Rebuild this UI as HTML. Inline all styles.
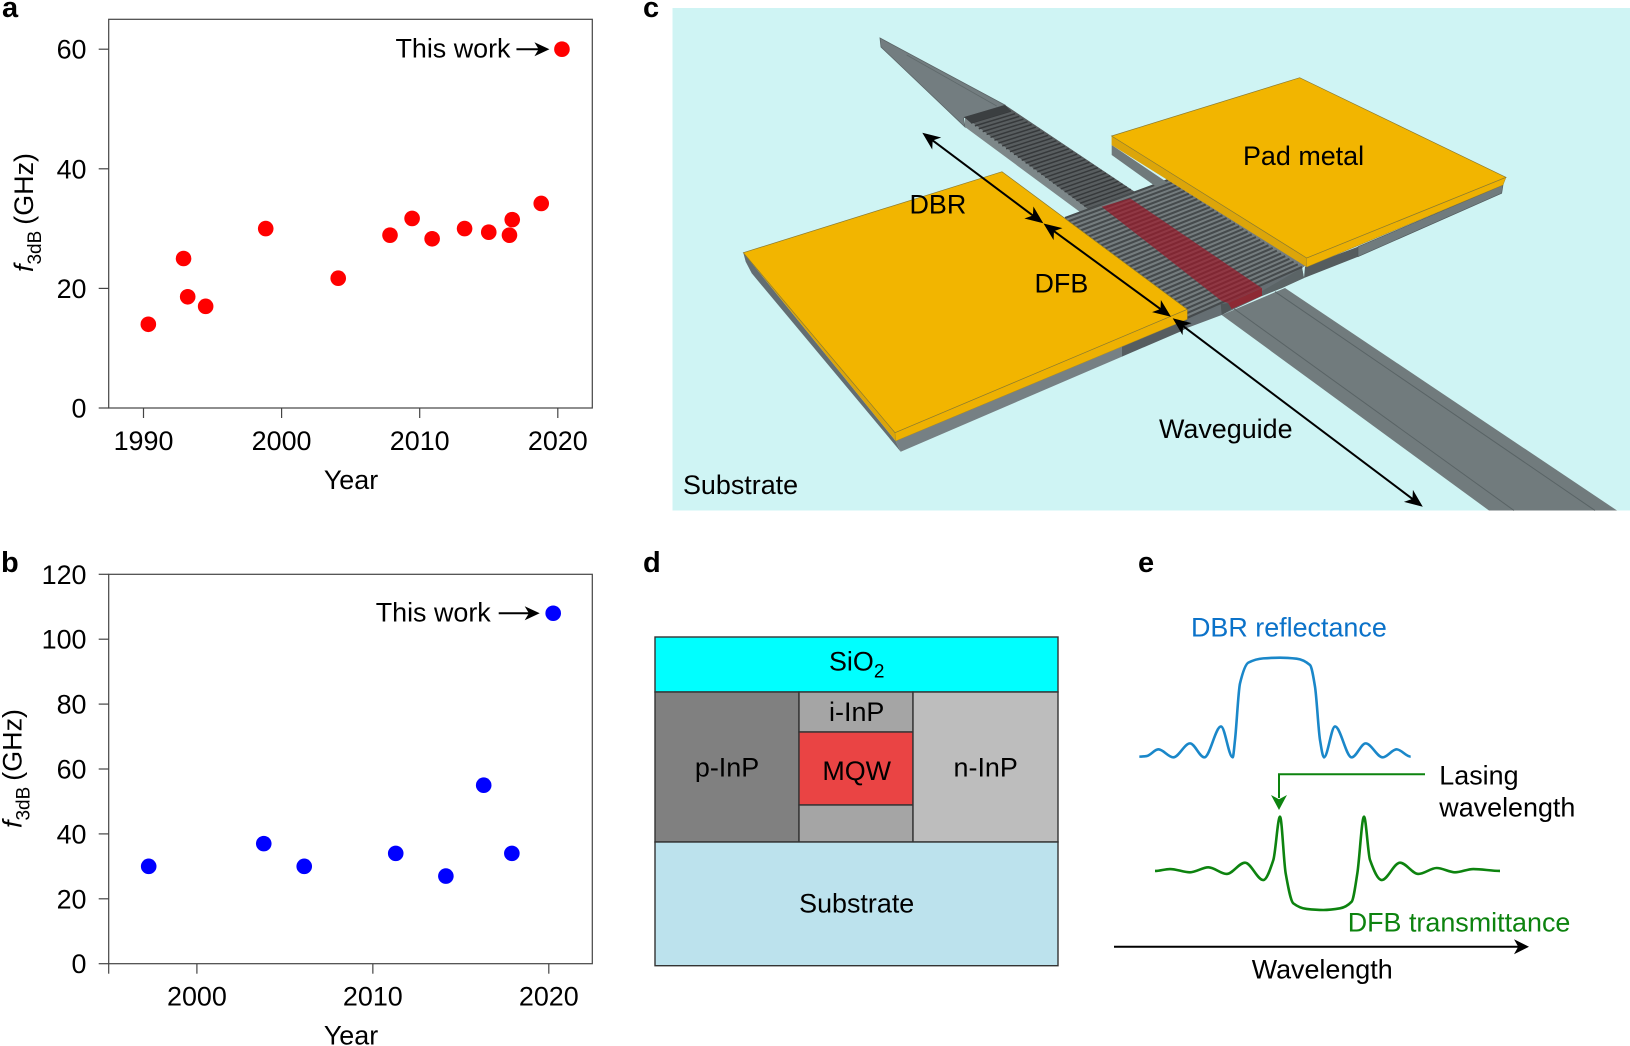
<!DOCTYPE html>
<html lang="en">
<head>
<meta charset="utf-8">
<title>High-speed laser figure</title>
<style>
html,body{margin:0;padding:0;background:#fff;}
svg{display:block;font-family:"Liberation Sans",Arial,sans-serif;}
text{font-size:26.9px;fill:#000;}
.tag{font-size:29px;font-weight:bold;}
.sub{font-size:19px;}
</style>
</head>
<body>
<svg id="fig" xmlns="http://www.w3.org/2000/svg" width="1630" height="1046" viewBox="0 0 1630 1046">
  <text class="tag" x="2" y="17">a</text>
  <text class="tag" x="1" y="572">b</text>
  <text class="tag" x="643" y="17">c</text>
  <text class="tag" x="643" y="572">d</text>
  <text class="tag" x="1138" y="572">e</text>

  <g id="panelA"></g>
  <g id="panelB"></g>

  <!-- Panel c -->
  <g id="panelC">
    <rect x="672.5" y="8" width="957.5" height="502.5" fill="#cff4f4"/>
    <polygon points="1221.7,315 1285,288 1617,510.5 1489,510.5" fill="#717b7d"/>
    <polyline points="1233,308 1514,510.5" fill="none" stroke="#596365" stroke-width="1"/>
    <polyline points="1275,291.7 1595,510.5" fill="none" stroke="#596365" stroke-width="1"/>
    <polygon points="880,38 1005,105 963.5,118 965,127 881,47" fill="#737d80" stroke="#5a6466" stroke-width=".8"/>
    <polyline points="906.7,55 996.7,106" fill="none" stroke="#5f696b" stroke-width=".8"/>
    <polygon points="965,117 1005,105 1135,192 1088,209 1080,212 965,127" fill="#7d8789"/>
    <polygon points="965,117 1005,105 1135,192 1088,209" fill="#585d5f"/>
    <g id="dbrLines"></g>
    <polygon points="964,117 1005,105 1011,111 971,123" fill="#3b3f41"/>
    <polygon points="1180,321 1302,267 1304,278 1282,288 1262,296 1221.7,315 1187,328" fill="#656e72"/>
    <polygon points="1262,291 1302,268 1304,278 1282,288 1262,296" fill="#5b6466"/>
    <polygon points="1220.7,304 1228,303 1231.7,309 1221.7,315" fill="#4f5658"/>
    <polygon points="1065,218 1168,180 1308,264 1302,268 1180,321" fill="#747c7e"/>
    <g id="dfbLines"></g>
    <polygon points="1101.7,206.7 1130,198.3 1261.7,288 1228,303 1221.7,301" fill="#a01626" fill-opacity=".66"/>
    <polygon points="1228,303 1262,288 1262,295.7 1231.7,309" fill="#8d2a34"/>
    <polygon points="1111.7,145 1111.7,155 1155,186 1168,183" fill="#6f797b"/>
    <polygon points="1305,266.7 1304,278 1358,256.7 1358,246.7" fill="#555c5e"/>
    <polygon points="1358,246.7 1358,256.7 1501.7,193.3 1503,185" fill="#707b7e" stroke="#4f5759" stroke-width=".6"/>
    <polygon points="1111.6,136 1111.6,145 1306.7,267 1306.7,258" fill="#dca50a"/>
    <polygon points="1306.7,258 1306.7,267 1503,185 1506,177.3" fill="#eeb102" stroke="#a88a20" stroke-width=".5"/>
    <polygon points="1111.6,136 1299.7,77.7 1506,177.3 1306.7,258" fill="#f2b500" stroke="#8a7a30" stroke-width=".7"/>
    <polygon points="743.3,252.7 745.7,261.7 751.7,273.3 900.7,451.7 895.7,441" fill="#636d72"/>
    <polygon points="895.7,441 900.7,451.7 1121.7,356.7 1121.7,346.7" fill="#768084"/>
    <polygon points="1121.7,346.7 1121.7,356.7 1180,331.7 1187,328 1187.3,319.3" fill="#565d60"/>
    <polygon points="743.3,252.7 895,432.7 895.7,441" fill="#dca50a"/>
    <polygon points="895,432.7 895.7,441 1187.3,319.3 1187.3,309.3" fill="#eeb102" stroke="#a88a20" stroke-width=".5"/>
    <polygon points="743.3,252.7 1002,171.7 1187.3,309.3 895,432.7" fill="#f2b500" stroke="#8a7a30" stroke-width=".7"/>
    <g id="cArrows"></g>
    <text x="1243" y="165">Pad metal</text>
    <text x="909.5" y="213.5">DBR</text>
    <text x="1034.5" y="292.5">DFB</text>
    <text x="1159" y="438">Waveguide</text>
    <text x="683" y="494">Substrate</text>
  </g>

  <!-- Panel d -->
  <g id="panelD" stroke="#333" stroke-width="1.4">
    <rect x="655" y="637" width="403" height="55" fill="#00ffff"/>
    <rect x="655" y="692" width="144" height="150" fill="#808080"/>
    <rect x="799" y="692" width="114" height="40" fill="#a5a5a5"/>
    <rect x="799" y="732" width="114" height="73" fill="#ea4444"/>
    <rect x="799" y="805" width="114" height="37" fill="#a5a5a5"/>
    <rect x="913" y="692" width="145" height="150" fill="#bdbdbd"/>
    <rect x="655" y="842" width="403" height="123.7" fill="#bce2ed"/>
    <g stroke="none" text-anchor="middle">
      <text x="856.7" y="670.7">SiO<tspan class="sub" dy="7">2</tspan></text>
      <text x="856.7" y="721">i-InP</text>
      <text x="727" y="776.7">p-InP</text>
      <text x="856.7" y="780">MQW</text>
      <text x="985.7" y="776.7">n-InP</text>
      <text x="856.7" y="912.3">Substrate</text>
    </g>
  </g>

  <!-- Panel e -->
  <g id="panelE">
    <text x="1191" y="636.7" style="fill:#0b72c9">DBR reflectance</text>
    <text x="1439.3" y="784.3">Lasing</text>
    <text x="1439.3" y="816.7">wavelength</text>
    <text x="1347.7" y="931.7" style="fill:#0d830f">DFB transmittance</text>
    <text x="1251.7" y="978.3">Wavelength</text>
  </g>
</svg>
<script>
// Panel a data
const yearsA = [1990.35,1992.9,1993.2,1994.5,1998.85,2004.1,2007.85,2009.45,2010.9,2013.25,2015,2016.5,2016.7,2018.8,2020.3];
const f3dbA = [14,25,18.6,17,30,21.7,28.9,31.7,28.3,30,29.4,28.9,31.5,34.2,60];
const xTicksA = [1990,2000,2010,2020];
const yTicksA = [0,20,40,60];
// Panel b data
const yearsB = [1997.26,2003.8,2006.1,2011.3,2014.15,2016.3,2017.9,2020.25];
const f3dbB = [30,37,30,34,27,55,34,108];
const xTicksB = [2000,2010,2020];
const yTicksB = [0,20,40,60,80,100,120];
// Panel e data (arbitrary wavelength units, normalised response)
const dbrWavelength = [5.8,8,11.5,16,21,25.3,30.3,33.8,34.5,36,38.5,43,48,53,57,58.5,60,61.2,64.5,69.5,73.7,78.8,83,87.2];
const dbrReflectance = [.007,.013,.08,0,.14,0,.31,0,.174,.742,.95,.993,1,.99,.926,.709,.174,0,.31,0,.14,0,.08,.007];
const dfbWavelength = [10.5,15,21,26.5,32,37.5,43,46,48,49.7,52,56,61,66,69.5,71.2,73.2,75,78.5,84,89.5,95,100.5,106,114];
const dfbTransmittance = [.418,.439,.404,.457,.386,.507,.321,.536,1,.393,.071,.011,0,.018,.089,.393,1,.536,.321,.507,.386,.45,.404,.439,.418];

const NS = 'http://www.w3.org/2000/svg';
function mk(parent, tag, attrs, text) {
  const e = document.createElementNS(NS, tag);
  for (const k in attrs) e.setAttribute(k, attrs[k]);
  if (text !== undefined) e.textContent = text;
  parent.appendChild(e);
  return e;
}
function head(parent, x1, y1, x2, y2, color, len, wid) {
  const d = Math.hypot(x2 - x1, y2 - y1), ux = (x2 - x1) / d, uy = (y2 - y1) / d;
  const bx = x2 - ux * len, by = y2 - uy * len, nx = -uy, ny = ux;
  const nbx = x2 - ux * len * .72, nby = y2 - uy * len * .72;
  return mk(parent, 'polygon', {
    points: [[x2,y2],[bx+nx*wid/2,by+ny*wid/2],[nbx,nby],[bx-nx*wid/2,by-ny*wid/2]].map(p => p.join(',')).join(' '),
    fill: color
  });
}
function arrow(parent, x1, y1, x2, y2, color, lw, len, wid, name, both) {
  const d = Math.hypot(x2 - x1, y2 - y1), ux = (x2 - x1) / d, uy = (y2 - y1) / d;
  const inset = len * .5;
  const l = mk(parent, 'line', {
    x1: both ? x1 + ux * inset : x1, y1: both ? y1 + uy * inset : y1,
    x2: x2 - ux * inset, y2: y2 - uy * inset,
    stroke: color, 'stroke-width': lw
  });
  
  
  const h = head(parent, x1, y1, x2, y2, color, len, wid);
  
  
  if (both) {
    const h2 = head(parent, x2, y2, x1, y1, color, len, wid);
    
    
  }
}
function drawChart(g, o) {
  const L = 108.7, R = 592.3;
  const x = v => o.x0 + (v - o.xRef) * o.pxPerYear;
  const y = v => o.bottom - v * o.pxPerUnit;
  const frame = mk(g, 'rect', {x: L, y: o.top, width: R - L, height: o.bottom - o.top, fill: 'none', stroke: '#444', 'stroke-width': 1.2});
  
  
  o.yTicks.forEach(t => {
    const tk = mk(g, 'line', {x1: L - 10, x2: L, y1: y(t), y2: y(t), stroke: '#444', 'stroke-width': 1.2});
    
    
    const lb = mk(g, 'text', {x: 86.5, y: y(t) + 9.5, 'text-anchor': 'end'}, String(t));
    
    
  });
  o.xTicks.forEach(t => {
    const tk = mk(g, 'line', {x1: x(t), x2: x(t), y1: o.bottom, y2: o.bottom + 10, stroke: '#444', 'stroke-width': 1.2});
    
    
    const lb = mk(g, 'text', {x: x(t), y: o.bottom + 42, 'text-anchor': 'middle'}, String(t));
    
    
  });
  if (o.cornerTick) {
    const tk = mk(g, 'line', {x1: L, x2: L, y1: o.bottom, y2: o.bottom + 10, stroke: '#444', 'stroke-width': 1.2});
    
    
  }
  const xt = mk(g, 'text', {x: 351, y: o.bottom + 81, 'text-anchor': 'middle'}, 'Year');
  
  
  const yt = mk(g, 'text', {transform: 'translate(' + o.ylabX + ',' + o.ylabY + ') rotate(-90)'});
  
  
  mk(yt, 'tspan', {'font-style': 'italic'}, 'f');
  mk(yt, 'tspan', {class: 'sub', dy: 8}, '3dB');
  mk(yt, 'tspan', {dy: -8, dx: 6}, '(GHz)');
  o.years.forEach((yr, i) => {
    const c = mk(g, 'circle', {cx: x(yr), cy: y(o.vals[i]), r: 7.8, fill: o.color});
    
    
  });
  const n = o.years.length - 1, px = x(o.years[n]), py = y(o.vals[n]);
  const tw = mk(g, 'text', {x: px - o.noteDx, y: py + 8.3}, 'This work');
  
  
  arrow(g, px - o.arrowDx, py, px - o.arrowEnd, py, '#000', 2, 15, 14, 'this-work-arrow', false);
}
drawChart(document.getElementById('panelA'), {
  x0: 143.5, xRef: 1990, pxPerYear: 13.81, bottom: 408, top: 19.3, pxPerUnit: 5.98,
  years: yearsA, vals: f3dbA, xTicks: xTicksA, yTicks: yTicksA, color: '#ff0000',
  ylabX: 33, ylabY: 272, noteDx: 166.5, arrowDx: 45.5, arrowEnd: 12.5, cornerTick: false
});
drawChart(document.getElementById('panelB'), {
  x0: 196.9, xRef: 2000, pxPerYear: 17.595, bottom: 963.7, top: 574.3, pxPerUnit: 3.245,
  years: yearsB, vals: f3dbB, xTicks: xTicksB, yTicks: yTicksB, color: '#0000ff',
  ylabX: 21.5, ylabY: 828, noteDx: 177.5, arrowDx: 54.5, arrowEnd: 13.5, cornerTick: true
});
// grating lines
function grating(g, a, b, c, d, n, col, w) {
  for (let i = 0; i <= n; i++) {
    const t = i / n;
    const l = mk(g, 'line', {
      x1: a[0] + (b[0] - a[0]) * t, y1: a[1] + (b[1] - a[1]) * t,
      x2: c[0] + (d[0] - c[0]) * t, y2: c[1] + (d[1] - c[1]) * t,
      stroke: col, 'stroke-width': w
    });
    
    
  }
}
grating(document.getElementById('dbrLines'), [971,123], [1088,209], [1011,111], [1135,192], 30, '#36393b', 1.5);
grating(document.getElementById('dfbLines'), [1065,218], [1180,321], [1168,180], [1302,267], 32, '#454a4c', 2.1);
// panel c arrows
const cA = document.getElementById('cArrows');
arrow(cA, 922.3, 132.7, 1043.3, 223.3, '#000', 2, 18, 15, 'dbr-arrow', true);
arrow(cA, 1043.5, 223.5, 1171, 316.7, '#000', 2, 18, 15, 'dfb-arrow', true);
arrow(cA, 1172.7, 318.3, 1422.8, 506.7, '#000', 2, 18, 15, 'waveguide-arrow', true);
// panel e: monotone cubic through the sampled response, flat at local extrema
function smooth(pts) {
  const n = pts.length, sl = [], m = [];
  for (let i = 0; i < n - 1; i++) sl.push((pts[i + 1][1] - pts[i][1]) / (pts[i + 1][0] - pts[i][0]));
  m[0] = 0;
  m[n - 1] = 0;
  for (let i = 1; i < n - 1; i++) {
    m[i] = sl[i - 1] * sl[i] <= 0 ? 0 : 2 * sl[i - 1] * sl[i] / (sl[i - 1] + sl[i]);
  }
  let d = 'M' + pts[0][0] + ' ' + pts[0][1];
  for (let i = 0; i < n - 1; i++) {
    const h = (pts[i + 1][0] - pts[i][0]) / 3;
    d += 'C' + (pts[i][0] + h) + ' ' + (pts[i][1] + m[i] * h) + ' ' +
         (pts[i + 1][0] - h) + ' ' + (pts[i + 1][1] - m[i + 1] * h) + ' ' + pts[i + 1][0] + ' ' + pts[i + 1][1];
  }
  return d;
}
const waveX = w => 1120 + w * 10 / 3;
const dbrY = r => 540 + (652 - 299 * r) / 3;
const dfbY = t => 540 + (1110 - 280 * t) / 3;
const pE = document.getElementById('panelE');
const dbrCurve = mk(pE, 'path', {d: smooth(dbrWavelength.map((w, i) => [waveX(w), dbrY(dbrReflectance[i])])), fill: 'none', stroke: '#1a87c9', 'stroke-width': 2.6});


const dfbCurve = mk(pE, 'path', {d: smooth(dfbWavelength.map((w, i) => [waveX(w), dfbY(dfbTransmittance[i])])), fill: 'none', stroke: '#0d830f', 'stroke-width': 2.6});


const lasing = mk(pE, 'polyline', {points: '1425,774.3 1279,774.3 1279,798', fill: 'none', stroke: '#0d830f', 'stroke-width': 2});


const lasingHead = head(pE, 1279, 780, 1279, 810, '#0d830f', 15, 16);


arrow(pE, 1114, 946.7, 1529, 946.7, '#000', 2, 15, 15, 'wavelength-axis-arrow', false);
</script>
</body>
</html>
